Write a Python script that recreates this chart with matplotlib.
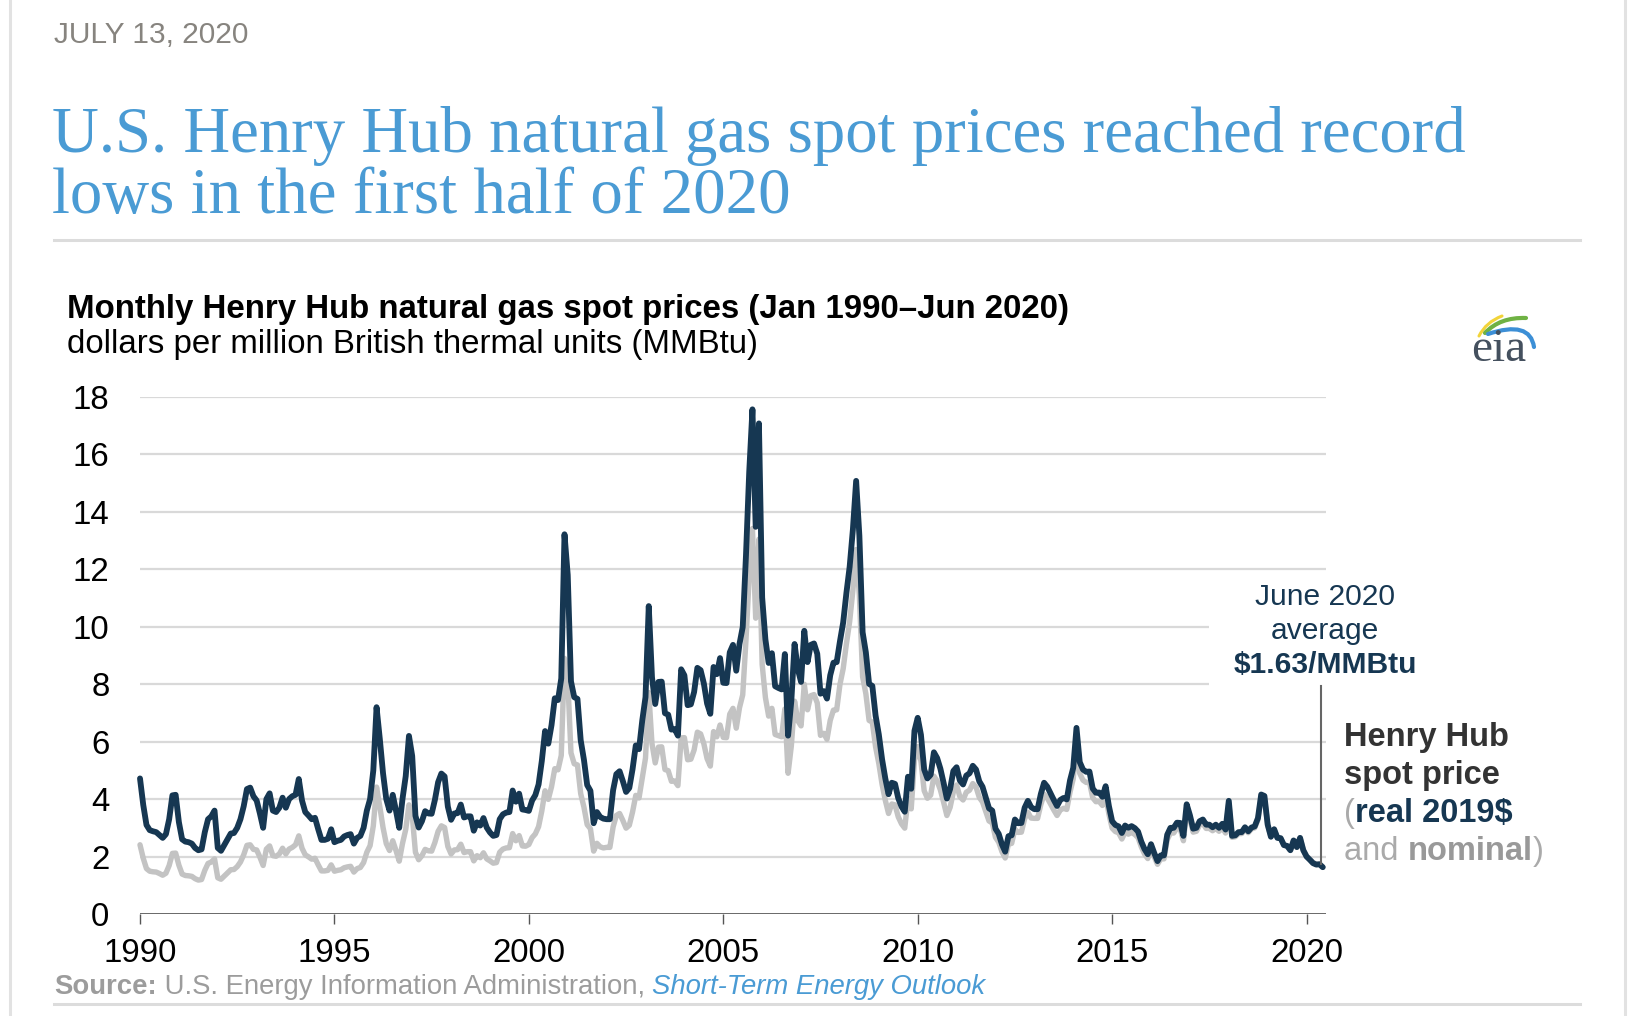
import numpy as np
import matplotlib
matplotlib.use("Agg")
import matplotlib.pyplot as plt
from matplotlib.path import Path
from matplotlib.patches import PathPatch
from matplotlib.lines import Line2D

# monthly Henry Hub spot price, Jan 1990 - Jun 2020, dollars per MMBtu
nominal = [
    2.41, 1.94, 1.58, 1.49, 1.47, 1.46, 1.41, 1.35, 1.42, 1.69, 2.11, 2.12,  # 1990
    1.70, 1.39, 1.34, 1.33, 1.31, 1.23, 1.18, 1.20, 1.52, 1.76, 1.81, 1.92,  # 1991
    1.26, 1.21, 1.32, 1.43, 1.54, 1.55, 1.65, 1.81, 2.06, 2.39, 2.41, 2.25,  # 1992
    2.23, 1.98, 1.69, 2.26, 2.37, 2.03, 2.01, 2.09, 2.29, 2.09, 2.26, 2.32,  # 1993
    2.41, 2.72, 2.29, 2.06, 1.99, 1.91, 1.94, 1.71, 1.50, 1.50, 1.52, 1.71,  # 1994
    1.49, 1.52, 1.54, 1.61, 1.64, 1.66, 1.46, 1.58, 1.62, 1.79, 2.15, 2.38,  # 1995
    3.07, 4.42, 3.74, 3.01, 2.45, 2.21, 2.55, 2.21, 1.84, 2.45, 2.94, 3.80,  # 1996
    3.45, 2.15, 1.89, 2.03, 2.25, 2.20, 2.19, 2.49, 2.88, 3.07, 3.01, 2.35,  # 1997
    2.09, 2.23, 2.24, 2.43, 2.14, 2.17, 2.17, 1.85, 2.03, 1.96, 2.13, 1.92,  # 1998
    1.85, 1.77, 1.79, 2.15, 2.26, 2.30, 2.31, 2.80, 2.55, 2.73, 2.37, 2.36,  # 1999
    2.42, 2.66, 2.79, 3.04, 3.59, 4.29, 3.99, 4.43, 5.06, 5.02, 5.52, 8.90,  # 2000
    8.17, 5.61, 5.23, 5.19, 4.19, 3.72, 3.11, 2.97, 2.19, 2.46, 2.34, 2.30,  # 2001
    2.32, 2.32, 3.03, 3.43, 3.50, 3.26, 2.99, 3.09, 3.55, 4.13, 4.04, 4.74,  # 2002
    5.43, 7.71, 5.93, 5.26, 5.81, 5.82, 5.03, 4.99, 4.62, 4.63, 4.47, 6.13,  # 2003
    6.14, 5.37, 5.39, 5.71, 6.33, 6.27, 5.93, 5.41, 5.15, 6.35, 6.17, 6.58,  # 2004
    6.15, 6.14, 6.96, 7.16, 6.47, 7.18, 7.63, 9.53, 11.75, 13.42, 10.30, 13.05,  # 2005
    8.69, 7.54, 6.89, 7.16, 6.25, 6.21, 6.17, 7.14, 4.90, 5.85, 7.41, 6.73,  # 2006
    6.55, 8.00, 7.11, 7.60, 7.64, 7.35, 6.22, 6.29, 6.08, 6.74, 7.10, 7.11,  # 2007
    7.99, 8.54, 9.41, 10.18, 11.27, 12.69, 11.09, 8.26, 7.67, 6.74, 6.68, 5.82,  # 2008
    5.24, 4.52, 3.96, 3.50, 3.83, 3.80, 3.38, 3.14, 2.99, 4.01, 3.66, 5.35,  # 2009
    5.83, 5.32, 4.29, 4.03, 4.14, 4.80, 4.63, 4.32, 3.89, 3.43, 3.71, 4.25,  # 2010
    4.49, 4.09, 3.97, 4.24, 4.31, 4.54, 4.42, 4.06, 3.90, 3.57, 3.24, 3.17,  # 2011
    2.67, 2.50, 2.17, 1.95, 2.43, 2.46, 2.95, 2.84, 2.85, 3.32, 3.54, 3.34,  # 2012
    3.33, 3.33, 3.81, 4.17, 4.04, 3.83, 3.62, 3.43, 3.62, 3.68, 3.64, 4.24,  # 2013
    4.71, 6.00, 4.90, 4.66, 4.58, 4.59, 4.05, 3.91, 3.92, 3.78, 4.12, 3.48,  # 2014
    2.99, 2.87, 2.83, 2.61, 2.85, 2.78, 2.84, 2.77, 2.66, 2.34, 2.09, 1.93,  # 2015
    2.28, 1.99, 1.73, 1.92, 1.92, 2.59, 2.82, 2.82, 2.99, 2.98, 2.55, 3.59,  # 2016
    3.30, 2.85, 2.88, 3.10, 3.15, 2.98, 2.98, 2.90, 2.98, 2.88, 3.01, 2.82,  # 2017
    3.87, 2.67, 2.69, 2.80, 2.80, 2.97, 2.83, 2.96, 3.00, 3.28, 4.09, 4.04,  # 2018
    3.11, 2.69, 2.95, 2.65, 2.64, 2.40, 2.37, 2.22, 2.56, 2.33, 2.65, 2.22,  # 2019
    2.02, 1.91, 1.79, 1.74, 1.75, 1.63,                                      # 2020
]

# same series in real 2019 dollars
real = [
    4.72, 3.80, 3.10, 2.92, 2.88, 2.85, 2.75, 2.65, 2.78, 3.30, 4.13, 4.15,
    3.20, 2.60, 2.52, 2.50, 2.45, 2.30, 2.22, 2.25, 2.85, 3.30, 3.40, 3.60,
    2.30, 2.20, 2.40, 2.60, 2.80, 2.82, 3.00, 3.30, 3.75, 4.35, 4.40, 4.10,
    3.95, 3.50, 3.00, 4.00, 4.20, 3.60, 3.55, 3.70, 4.05, 3.70, 4.00, 4.10,
    4.15, 4.70, 3.95, 3.55, 3.43, 3.30, 3.35, 2.95, 2.58, 2.58, 2.62, 2.95,
    2.50, 2.55, 2.58, 2.70, 2.75, 2.78, 2.45, 2.65, 2.72, 3.00, 3.60, 4.00,
    5.00, 7.20, 6.10, 4.90, 4.00, 3.60, 4.15, 3.60, 3.00, 4.00, 4.80, 6.20,
    5.50, 3.42, 3.01, 3.23, 3.58, 3.50, 3.49, 3.97, 4.59, 4.89, 4.79, 3.74,
    3.28, 3.50, 3.51, 3.81, 3.36, 3.40, 3.40, 2.90, 3.19, 3.08, 3.34, 3.01,
    2.84, 2.72, 2.75, 3.30, 3.47, 3.53, 3.55, 4.30, 3.91, 4.19, 3.64, 3.62,
    3.59, 3.95, 4.14, 4.51, 5.33, 6.37, 5.93, 6.58, 7.51, 7.45, 8.20, 13.22,
    11.80, 8.10, 7.55, 7.49, 6.05, 5.37, 4.49, 4.29, 3.16, 3.55, 3.38, 3.32,
    3.30, 3.30, 4.31, 4.87, 4.97, 4.63, 4.25, 4.39, 5.04, 5.87, 5.74, 6.74,
    7.55, 10.72, 8.24, 7.31, 8.08, 8.09, 6.99, 6.94, 6.42, 6.44, 6.21, 8.52,
    8.31, 7.27, 7.30, 7.73, 8.57, 8.49, 8.03, 7.33, 6.97, 8.60, 8.35, 8.91,
    8.05, 8.04, 9.11, 9.37, 8.47, 9.40, 9.99, 12.47, 15.38, 17.57, 13.48, 17.08,
    11.02, 9.56, 8.74, 9.08, 7.93, 7.87, 7.82, 9.05, 6.21, 7.42, 9.40, 8.53,
    8.08, 9.86, 8.77, 9.37, 9.42, 9.06, 7.67, 7.76, 7.50, 8.31, 8.75, 8.77,
    9.49, 10.15, 11.18, 12.09, 13.39, 15.08, 13.17, 9.81, 9.11, 8.01, 7.94, 6.91,
    6.25, 5.39, 4.72, 4.17, 4.57, 4.53, 4.03, 3.74, 3.56, 4.78, 4.36, 6.38,
    6.83, 6.24, 5.03, 4.72, 4.85, 5.63, 5.43, 5.06, 4.56, 4.02, 4.35, 4.98,
    5.11, 4.65, 4.51, 4.82, 4.90, 5.16, 5.03, 4.62, 4.43, 4.06, 3.68, 3.60,
    2.97, 2.79, 2.42, 2.17, 2.71, 2.74, 3.29, 3.16, 3.17, 3.70, 3.94, 3.72,
    3.65, 3.65, 4.18, 4.57, 4.43, 4.20, 3.97, 3.76, 3.97, 4.04, 3.99, 4.65,
    5.09, 6.48, 5.29, 5.03, 4.95, 4.96, 4.37, 4.22, 4.23, 4.08, 4.45, 3.76,
    3.23, 3.10, 3.05, 2.82, 3.08, 3.00, 3.06, 2.99, 2.87, 2.52, 2.26, 2.08,
    2.43, 2.12, 1.84, 2.04, 2.04, 2.76, 3.00, 3.00, 3.18, 3.17, 2.72, 3.82,
    3.44, 2.97, 3.00, 3.23, 3.29, 3.11, 3.11, 3.02, 3.11, 3.00, 3.14, 2.94,
    3.94, 2.72, 2.74, 2.85, 2.85, 3.02, 2.88, 3.01, 3.05, 3.34, 4.16, 4.11,
    3.11, 2.69, 2.95, 2.65, 2.64, 2.40, 2.37, 2.22, 2.56, 2.33, 2.65, 2.22,
    2.00, 1.89, 1.77, 1.72, 1.73, 1.63,
]

year_ticks = [1990, 1995, 2000, 2005, 2010, 2015, 2020]
y_ticks = [0, 2, 4, 6, 8, 10, 12, 14, 16, 18]

W, H = 1634, 1016
NAVY = "#163752"
LGRAY = "#c3c3c3"
BLUE = "#4a9bd4"
SANS = "Liberation Sans"
SERIF = "Liberation Serif"

fig = plt.figure(figsize=(W / 100, H / 100), dpi=100)
fig.patch.set_facecolor("white")


def fx(px):
    return px / W


def fy(py):
    return 1 - py / H


def hline(x0, x1, y, color="#dcdcdc", lw=2.2):
    fig.add_artist(Line2D([fx(x0), fx(x1)], [fy(y), fy(y)], color=color, lw=lw))


def runs(x, y, parts, size):
    # draw a line of text made of several styled pieces
    r = fig.canvas.get_renderer()
    for s, color, weight, style in parts:
        t = fig.text(fx(x), fy(y), s, color=color, fontsize=size, fontweight=weight,
                     fontstyle=style, family=SANS, va="baseline", ha="left")
        x += t.get_window_extent(renderer=r).width


# page frame
fig.add_artist(Line2D([fx(10), fx(10)], [0, 1], color="#e2e2e2", lw=2.2))
fig.add_artist(Line2D([fx(1625), fx(1625)], [0, 1], color="#e2e2e2", lw=2.2))

fig.text(fx(54), fy(43), "JULY 13, 2020", color="#87847f", fontsize=21.5,
         family=SANS, va="baseline")
fig.text(fx(52), fy(152), "U.S. Henry Hub natural gas spot prices reached record",
         color=BLUE, fontsize=46.6, family=SERIF, va="baseline")
fig.text(fx(52), fy(213), "lows in the first half of 2020",
         color=BLUE, fontsize=46.6, family=SERIF, va="baseline")
hline(54, 1580, 240)

fig.text(fx(67), fy(318), "Monthly Henry Hub natural gas spot prices (Jan 1990\u2013Jun 2020)",
         color="black", fontsize=23.8, fontweight="bold", family=SANS, va="baseline")
fig.text(fx(67), fy(353), "dollars per million British thermal units (MMBtu)",
         color="black", fontsize=23.8, family=SANS, va="baseline")

# eia logo
fig.text(fx(1471), fy(361), "eia", color="#44505e", fontsize=34, family=SERIF, va="baseline")
for pts, col, w in [
    ([(1479, 336), (1486, 322), (1502, 316)], "#f2d43a", 2.2),
    ([(1485, 333), (1500, 317), (1526, 318)], "#6fb244", 3.0),
    ([(1488, 334), (1530, 320), (1534, 347)], "#3c8fd6", 3.0),
]:
    p = Path([(fx(a), fy(b)) for a, b in pts], [Path.MOVETO, Path.CURVE3, Path.CURVE3])
    fig.add_artist(PathPatch(p, fc="none", ec=col, lw=w, transform=fig.transFigure,
                             capstyle="round"))

# main chart
ax = fig.add_axes([fx(140), fy(914), fx(1326) - fx(140), fy(397) - fy(914)])
months = 1990 + np.arange(len(real)) / 12

for v in y_ticks[1:]:
    xend = 2017.5 if v in (8, 10) else 2020.5
    ax.hlines(v, 1990, xend, color="#d9d9d9", lw=1.6, zorder=1)
ax.axhline(0, color="#404040", lw=1.1, zorder=2)

ax.plot(months, nominal, color=LGRAY, lw=3.9, zorder=3, solid_joinstyle="round",
        solid_capstyle="round", clip_on=False)
ax.plot(months, real, color=NAVY, lw=4.2, zorder=4, solid_joinstyle="round",
        solid_capstyle="round", clip_on=False)

ax.set_xlim(1990, 2020.5)
ax.set_ylim(0, 18)
ax.set_xticks(year_ticks)
ax.set_yticks(y_ticks)
ax.tick_params(axis="x", length=7, width=1, color="#555555", pad=10, labelsize=23.8)
ax.tick_params(axis="y", length=0, pad=22, labelsize=23.8)
for lab in ax.get_xticklabels() + ax.get_yticklabels():
    lab.set_family(SANS)
for s in ax.spines.values():
    s.set_visible(False)

# June 2020 callout
ax.plot([2020.36, 2020.36], [1.75, 7.95], color="#666666", lw=1.5, zorder=5, clip_on=False)
fig.text(fx(1325), fy(605), "June 2020", color=NAVY, fontsize=21.6, family=SANS,
         ha="center", va="baseline")
fig.text(fx(1325), fy(639), "average", color=NAVY, fontsize=21.6, family=SANS,
         ha="center", va="baseline")
fig.text(fx(1325), fy(673), "$1.63/MMBtu", color=NAVY, fontsize=21.6, family=SANS,
         fontweight="bold", ha="center", va="baseline")

runs(1344, 746, [("Henry Hub", "#333333", "bold", "normal")], 23.5)
runs(1344, 784, [("spot price", "#333333", "bold", "normal")], 23.5)
runs(1344, 822, [("(", "#aaaaaa", "normal", "normal"),
                 ("real 2019$", NAVY, "bold", "normal")], 23.5)
runs(1344, 860, [("and ", "#aaaaaa", "normal", "normal"),
                 ("nominal", "#999999", "bold", "normal"),
                 (")", "#aaaaaa", "normal", "normal")], 23.5)

# source
runs(54, 994, [("Source:", "#9c9c9c", "bold", "normal"),
               (" U.S. Energy Information Administration, ", "#9c9c9c", "normal", "normal"),
               ("Short-Term Energy Outlook", BLUE, "normal", "italic")], 19.8)
hline(54, 1580, 1004)

fig.savefig("out.png", dpi=100)
